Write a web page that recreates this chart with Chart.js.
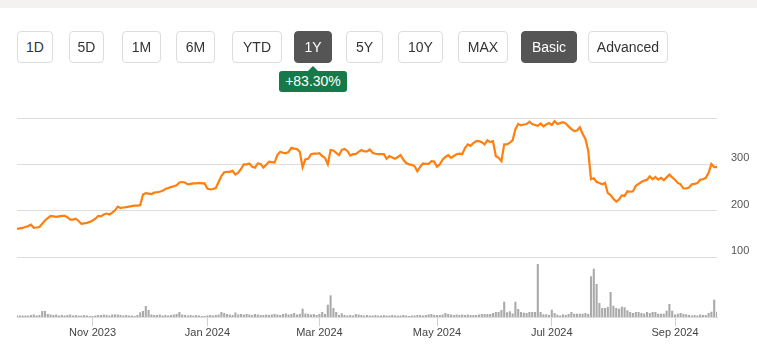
<!DOCTYPE html>
<html>
<head>
<meta charset="utf-8">
<script src="https://cdn.jsdelivr.net/npm/chart.js@4"></script>
<style>
  body { margin: 0; background: #fff; font-family: 'Liberation Sans', Arial, sans-serif; }
  .topband { position: absolute; left: 0; top: 0; width: 757px; height: 8px; background: #f4f2f0; }
  .btn { position: absolute; top: 31px; height: 30px; line-height: 30px; text-align: center;
         font-size: 14px; color: #333; background: #fff; border: 1px solid #ddd; border-radius: 4px; box-sizing: content-box; }
  .btn.on { background: #555; color: #fff; border-color: #555; }
  .badge { position: absolute; left: 279px; top: 71px; width: 68px; height: 21px; line-height: 21px;
           background: #16794a; color: #fff; font-size: 14px; text-align: center; border-radius: 3px; }
  .badge:before { content: ''; position: absolute; left: 29px; top: -5px; border-left: 5px solid transparent;
                  border-right: 5px solid transparent; border-bottom: 5px solid #16794a; }
  #wrap { position: absolute; left: 0; top: 0; width: 757px; height: 350px; }
</style>
</head>
<body>
<div class="topband"></div>
<div id="wrap"><canvas id="priceChart"></canvas></div>
<div class="btn" style="left:17px;width:34px">1D</div>
<div class="btn" style="left:69px;width:33px">5D</div>
<div class="btn" style="left:122px;width:37px">1M</div>
<div class="btn" style="left:176px;width:37px">6M</div>
<div class="btn" style="left:232px;width:48px">YTD</div>
<div class="btn on" style="left:294px;width:36px">1Y</div>
<div class="btn" style="left:346px;width:35px">5Y</div>
<div class="btn" style="left:398px;width:43px">10Y</div>
<div class="btn" style="left:458px;width:48px">MAX</div>
<div class="btn on" style="left:521px;width:54px">Basic</div>
<div class="btn" style="left:588px;width:78px">Advanced</div>
<div class="badge">+83.30%</div>
<script>
// trading days from 25 Sep 2023 (index 0) to 24 Sep 2024 (index 250)
const closePrices = [
  161, 162, 163, 165, 167, 170, 163, 164, 165, 172,
  179, 184, 189, 188, 187, 188, 189, 189, 186, 181,
  181, 183, 178, 172, 173, 174, 176, 179, 183, 189,
  188, 192, 194, 192, 196, 201, 209, 206, 207, 208,
  209, 210, 211, 211, 212, 235, 238, 237, 236, 239,
  240, 241, 243, 247, 249, 251, 253, 255, 261, 262,
  261, 257, 258, 259, 259, 260, 259, 259, 248, 246,
  247, 249, 262, 275, 283, 284, 284, 286, 278, 282,
  290, 300, 300, 302, 295, 293, 302, 301, 293, 299,
  306, 305, 304, 320, 327, 325, 324, 327, 336, 334,
  333, 327, 294, 311, 312, 322, 323, 323, 324, 318,
  314, 300, 331, 330, 325, 320, 331, 333, 329, 319,
  322, 322, 327, 331, 328, 328, 332, 325, 323, 322,
  322, 322, 312, 318, 315, 312, 316, 320, 310, 303,
  300, 299, 296, 285, 295, 302, 301, 301, 307, 306,
  295, 300, 310, 316, 320, 314, 318, 322, 323, 322,
  335, 343, 340, 346, 350, 350, 348, 343, 352, 348,
  350, 318, 314, 307, 343, 343, 347, 352, 376, 387,
  384, 386, 387, 392, 387, 385, 383, 388, 382, 386,
  389, 385, 393, 387, 389, 391, 388, 382, 376, 372,
  373, 380, 366, 355, 330, 268, 270, 262, 260, 257,
  260, 238, 234, 226, 220, 224, 233, 232, 242, 241,
  242, 254, 258, 262, 265, 267, 274, 268, 273, 267,
  271, 266, 272, 278, 272, 267, 260, 257, 248, 248,
  250, 257, 258, 260, 267, 268, 271, 282, 301, 294,
  294
];

const volumes = [
  1.5, 1.5, 1.5, 1.5, 1.5, 2, 2.5, 1.5, 2, 6,
  6, 3, 2.5, 2, 2.5, 1.5, 2, 1.5, 2, 2.5,
  1.5, 2, 1.5, 1.5, 2, 1.5, 1, 1, 1.5, 2,
  2, 2.5, 2, 1.5, 2.5, 2.5, 2.5, 2, 1.5, 2,
  1.5, 1.5, 1, 2, 4.7, 6, 11, 7, 2.5, 2,
  2, 2.5, 1.5, 2, 1.5, 2, 2.5, 3, 5, 2.5,
  2, 1.5, 2, 1.5, 2, 1.5, 1, 1, 1.5, 2,
  1.5, 2, 2.5, 5, 4, 3, 2.5, 2, 4.5, 2.5,
  3, 2.5, 3, 2.5, 2, 3, 2.5, 2, 2, 2.5,
  2, 2.5, 3, 2.5, 2, 3, 3.5, 2.5, 3, 4,
  2.5, 3, 8.3, 3.5, 3, 2.5, 3, 2, 3, 5,
  3, 12.3, 21.7, 9, 5, 2, 3.7, 2, 1.5, 2,
  1.5, 3, 2.5, 2, 1.5, 2, 1.5, 1.5, 2, 1.5,
  1.5, 2, 1.5, 1.5, 2, 1.5, 1.5, 1.5, 2, 1.5,
  1, 1.5, 1.5, 2, 2, 1.5, 2, 2.5, 3, 2,
  2, 2, 2.5, 4, 3, 2.5, 2, 2.5, 2, 2.5,
  2, 2.5, 2, 2, 2, 2.5, 3, 3, 3, 3,
  4, 5, 5, 7, 15.3, 4.7, 5.7, 3.5, 15.3, 8,
  5, 4.3, 4, 5, 5, 5, 53, 5, 2.7, 2.7,
  2, 7.3, 4, 2.3, 1.5, 2.7, 2, 3, 5, 3.3,
  3.3, 3.3, 3.3, 4, 3, 40.7, 48.3, 33, 14, 9,
  9, 10, 25, 11.3, 9, 8.3, 10.3, 9.7, 6.7, 5,
  4, 5, 5, 4, 3.5, 5, 4, 5, 5, 3.3,
  3.3, 3.3, 6.3, 13, 6.3, 2.5, 3.3, 4, 3, 2.7,
  2, 1.5, 2, 1.5, 2.5, 2, 2, 4, 5.3, 17.3,
  5.3
];

const monthTicks = [27, 68, 108, 150, 191, 235];
const monthLabels = ['Nov 2023', 'Jan 2024', 'Mar 2024', 'May 2024', 'Jul 2024', 'Sep 2024'];
const priceTicks = [100, 200, 300, 400];

const ctx = document.getElementById('priceChart').getContext('2d');
new Chart(ctx, {
  data: {
    datasets: [
      {
        type: 'line',
        label: 'Price',
        data: closePrices.map((v, i) => ({ x: i, y: v })),
        borderColor: '#ff7f0f',
        borderWidth: 2.2,
        pointRadius: 0,
        tension: 0,
        yAxisID: 'y',
        order: 1
      },
      {
        type: 'bar',
        label: 'Volume',
        data: volumes.map((v, i) => ({ x: i, y: v })),
        backgroundColor: '#aaaaaa',
        barPercentage: 0.75,
        categoryPercentage: 1,
        yAxisID: 'vol',
        order: 2
      }
    ]
  },
  options: {
    responsive: true,
    maintainAspectRatio: false,
    animation: false,
    layout: { autoPadding: false, padding: { left: 17, top: 118, right: 0, bottom: 0 } },
    plugins: { legend: { display: false }, tooltip: { enabled: false } },
    scales: {
      x: {
        type: 'linear',
        min: 0,
        max: 250,
        offset: false,
        afterBuildTicks: axis => { axis.ticks = monthTicks.map(v => ({ value: v })); },
        afterFit: axis => { axis.height = 33; },
        ticks: {
          autoSkip: false,
          maxRotation: 0,
          padding: 0,
          color: '#444',
          font: { family: "'Liberation Sans', Arial", size: 11 },
          callback: v => monthLabels[monthTicks.indexOf(v)]
        },
        grid: { offset: false, drawOnChartArea: false, drawTicks: true, tickLength: 9, color: '#d0d0d0' },
        border: { display: true, color: '#dddddd' }
      },
      y: {
        position: 'right',
        min: -29,
        max: 400,
        afterBuildTicks: axis => { axis.ticks = priceTicks.map(v => ({ value: v })); },
        afterFit: axis => { axis.width = 40; },
        ticks: {
          padding: 14,
          labelOffset: -6,
          color: '#555',
          font: { family: "'Liberation Sans', Arial", size: 11 },
          callback: v => (v === 400 ? '' : v)
        },
        grid: { color: '#dddddd', drawTicks: false },
        border: { display: false }
      },
      vol: {
        display: false,
        min: 0,
        max: 199
      }
    }
  }
});
</script>
</body>
</html>
